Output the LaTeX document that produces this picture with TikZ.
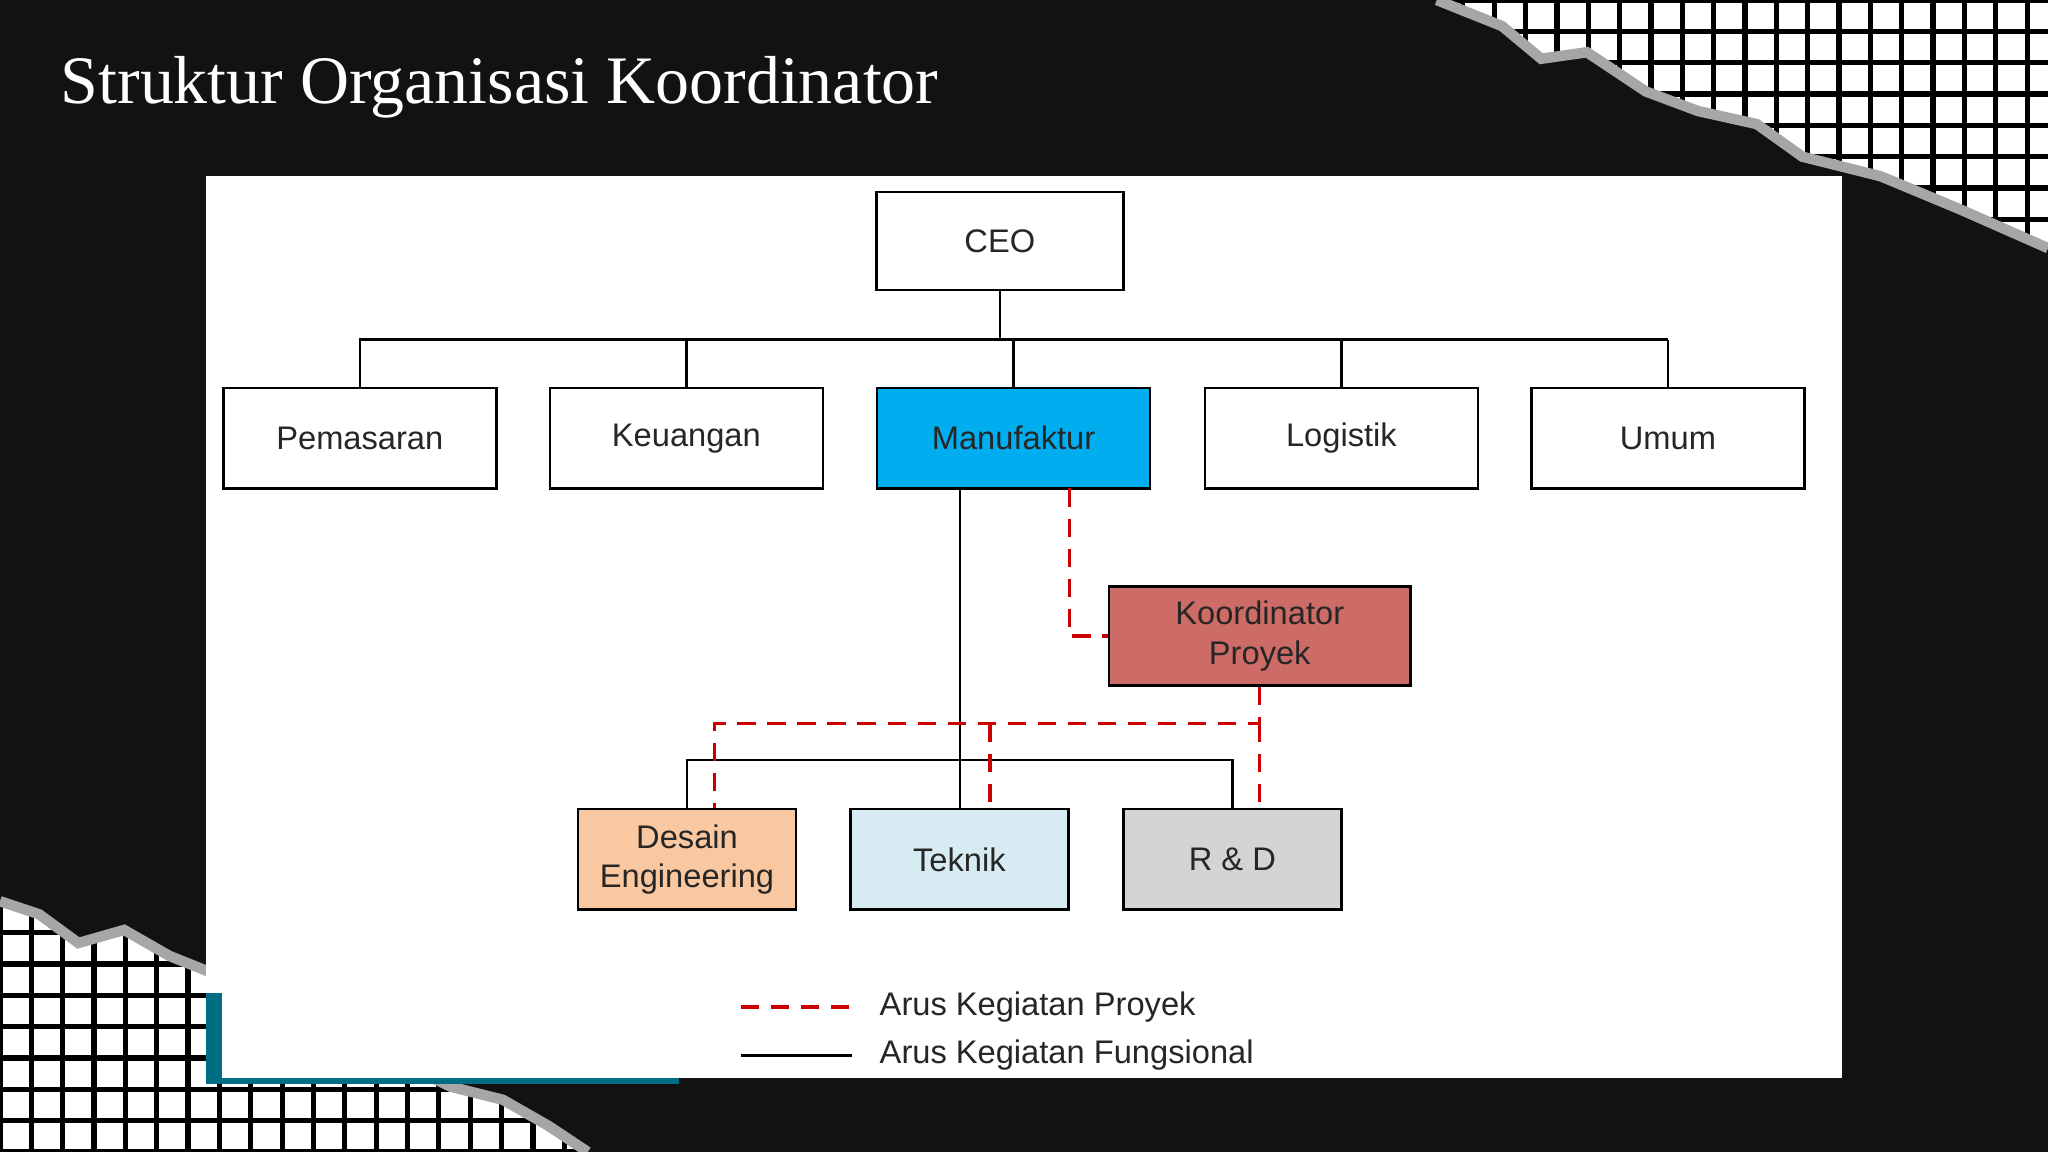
\documentclass[tikz,border=0pt]{standalone}
\usepackage{fontspec}
\setmainfont{Liberation Sans}
\newfontfamily\titlefont{Liberation Serif}
\definecolor{tealc}{RGB}{0,110,130}
\definecolor{manc}{RGB}{0,174,239}
\definecolor{kpc}{RGB}{205,107,102}
\definecolor{desc}{RGB}{250,200,160}
\definecolor{tekc}{RGB}{214,235,242}
\definecolor{rdc}{RGB}{212,212,214}
\begin{document}
\begin{tikzpicture}[x=1pt,y=-1pt,
  box/.style={draw=black,line width=2pt,minimum width=209pt,minimum height=77pt,font=\fontsize{25}{28}\selectfont,align=center,inner sep=0pt,text=black!85},
  sbox/.style={box,minimum width=167pt},
  func/.style={line width=2pt,black},
  proj/.style={line width=2.5pt,red!80!black,dash pattern=on 14pt off 9pt}]
\useasboundingbox (0,0) rectangle (1568,882);
\fill[black!93] (0,0) rectangle (1568,882);
% top-right grid
\begin{scope}
\clip (1100,0) -- (1150,20) -- (1180,45) -- (1215,40) -- (1260,70) -- (1300,85) -- (1345,95) -- (1380,120) -- (1440,135) -- (1500,160) -- (1568,190) -- (1568,0) -- cycle;
\fill[white] (1000,0) rectangle (1568,200);
\foreach \i in {0,...,24} {
  \draw[black,line width=4pt] (1000+24*\i,0) -- (1000+24*\i,200);
}
\foreach \j in {0,...,9} {
  \draw[black,line width=4pt] (1000,24*\j) -- (1568,24*\j);
}
\end{scope}
\draw[gray!70,line width=8pt] (1100,0) -- (1150,20) -- (1180,45) -- (1215,40) -- (1260,70) -- (1300,85) -- (1345,95) -- (1380,120) -- (1440,135) -- (1500,160) -- (1568,190);
% bottom-left grid
\begin{scope}
\clip (0,690) -- (30,700) -- (60,722) -- (95,712) -- (130,732) -- (200,760) -- (300,810) -- (345,832) -- (385,842) -- (420,862) -- (450,882) -- (0,882) -- cycle;
\fill[white] (0,680) rectangle (460,882);
\foreach \i in {0,...,20} {
  \draw[black,line width=4pt] (24*\i,680) -- (24*\i,882);
}
\foreach \j in {0,...,9} {
  \draw[black,line width=4pt] (0,690+24*\j) -- (460,690+24*\j);
}
\end{scope}
\draw[gray!70,line width=8pt] (0,690) -- (30,700) -- (60,722) -- (95,712) -- (130,732) -- (200,760) -- (300,810) -- (345,832) -- (385,842) -- (420,862) -- (450,882);
\fill[tealc] (158,760) rectangle (520,830);
% panel
\fill[white] (170,135) rectangle (1410,825);
\fill[white] (158,135) rectangle (1410,760);
\node[anchor=west,text=white,font=\titlefont\fontsize{52}{58}\selectfont] (title) at (43,67) {Struktur Organisasi Koordinator};
% boxes
\node[box,minimum width=189pt,minimum height=75pt] (ceo) at (765.5,184.5) {CEO};
\node[box] (pem) at (275.5,335.5) {Pemasaran};
\node[box] (keu) at (525.5,335.5) {Keuangan};
\node[box,fill=manc] (man) at (776,335.5) {Manufaktur};
\node[box] (log) at (1027,335.5) {Logistik};
\node[box] (umu) at (1277,335.5) {Umum};
\node[box,minimum width=231pt,minimum height=76pt,fill=kpc,font=\fontsize{25}{30}\selectfont] (kp) at (964.5,487) {Koordinator\\Proyek};
\node[sbox,fill=desc,font=\fontsize{25}{30}\selectfont] (des) at (526,658) {Desain\\Engineering};
\node[sbox,fill=tekc] (tek) at (734.5,658) {Teknik};
\node[sbox,fill=rdc] (rd) at (943.5,658) {R \& D};
% functional lines
\coordinate (busL) at (275,260); \coordinate (busR) at (1277,260);
\draw[func] (ceo.south) -- (ceo.south |- busL);
\draw[func] (busL) -- (busR);
\foreach \n in {pem,keu,man,log,umu} \draw[func] (\n.north |- busL) -- (\n.north);
\coordinate (ms) at (735,374);
\draw[func] (ms) -- (tek.north -| ms);
\coordinate (b2) at (526,582);
\draw[func] (des.north) -- (b2) -- (rd.north |- b2) -- (rd.north);
% project lines
\coordinate (ps) at (819,374);
\draw[proj] (ps) -- (ps |- kp.west) -- (kp.west);
\coordinate (pl) at (547,554); \coordinate (pm) at (758,554);
\draw[proj] (kp.south) -- (kp.south |- pl) -- (pl) -- (pl |- des.north);
\draw[proj] (pm) -- (pm |- tek.north);
\draw[proj] (kp.south |- pl) -- (rd.north -| kp.south);
% legend
\coordinate (l1a) at (567,771); \coordinate (l1b) at (652,771);
\coordinate (l2a) at (567,808); \coordinate (l2b) at (652,808);
\draw[proj] (l1a) -- (l1b);
\draw[func] (l2a) -- (l2b);
\node[anchor=west,font=\fontsize{25}{28}\selectfont,text=black!85] (t1) at (670,771) {Arus Kegiatan Proyek};
\node[anchor=west,font=\fontsize{25}{28}\selectfont,text=black!85] (t2) at (670,808) {Arus Kegiatan Fungsional};
\end{tikzpicture}
\end{document}
